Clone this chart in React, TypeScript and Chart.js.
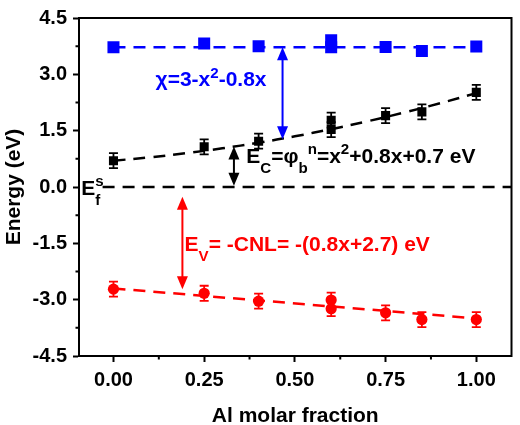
import React, { useEffect, useRef } from "react";
import { Chart, registerables } from "chart.js";

Chart.register(...registerables);

const FONT = '"Liberation Sans", Arial, Helvetica, sans-serif';

// ---- data ----
const alFraction = [0, 0.25, 0.4, 0.6, 0.6, 0.75, 0.85, 1.0];
const chiValues = [3.72, 3.82, 3.75, 3.91, 3.72, 3.73, 3.62, 3.74];
const ecValues = [0.7, 1.07, 1.22, 1.78, 1.53, 1.9, 2.0, 2.52];
const ecErrors = [0.2, 0.2, 0.2, 0.2, 0.2, 0.2, 0.2, 0.2];
const evValues = [-2.72, -2.83, -3.04, -3.01, -3.24, -3.35, -3.53, -3.53];
const evErrors = [0.2, 0.2, 0.2, 0.2, 0.2, 0.2, 0.2, 0.2];

const chiFitX = [0, 1.0];
const chiFitY = [3.72, 3.72];
const ecFitX = [0, 0.1, 0.2, 0.3, 0.4, 0.5, 0.6, 0.7, 0.8, 0.9, 1.0];
const ecFitY = [0.7, 0.79, 0.9, 1.03, 1.18, 1.35, 1.54, 1.75, 1.98, 2.23, 2.5];
const evFitX = [0, 1.0];
const evFitY = [-2.7, -3.5];
const fermiX = [-0.03, 1.097];
const fermiY = [0, 0];

const xTicks = [0, 0.25, 0.5, 0.75, 1.0];
const xMinorTicks = [0.125, 0.375, 0.625, 0.875];
const yTicks = [-4.5, -3.0, -1.5, 0, 1.5, 3.0, 4.5];
const yMinorTicks = [-3.75, -2.25, -0.75, 0.75, 2.25, 3.75];

// arrows: x position, start value, end value (energy, eV)
const arrowX = [0.466, 0.332, 0.19];
const arrowFrom = [3.72, 1.08, -0.26];
const arrowTo = [1.27, 0.03, -2.72];

const BLUE = "#0000ff";
const RED = "#ff0000";
const BLACK = "#000000";
const arrowColors = [BLUE, BLACK, RED];

const pts = (xs: number[], ys: number[]) => xs.map((x, i) => ({ x, y: ys[i] }));

type Part = { t: string; k?: "sub" | "sup"; stack?: boolean };

function drawRich(ctx: CanvasRenderingContext2D, x: number, y: number, parts: Part[], color: string, size: number) {
  let cx = x;
  ctx.fillStyle = color;
  ctx.textAlign = "left";
  ctx.textBaseline = "alphabetic";
  for (const p of parts) {
    const s = p.k ? size * 0.72 : size;
    ctx.font = `bold ${s}px ${FONT}`;
    const dy = p.k === "sub" ? size * 0.47 : p.k === "sup" ? -size * 0.42 : 0;
    ctx.fillText(p.t, cx, y + dy);
    if (!p.stack) cx += ctx.measureText(p.t).width;
  }
}

const overlayPlugin = {
  id: "overlay",
  afterDatasetsDraw(chart: any) {
    const ctx: CanvasRenderingContext2D = chart.ctx;
    const xs = chart.scales.x;
    const ys = chart.scales.y;
    const ca = chart.chartArea;
    ctx.save();

    // error bars
    const drawErr = (vals: number[], errs: number[], color: string) => {
      ctx.strokeStyle = color;
      ctx.lineWidth = 1.8;
      vals.forEach((v, i) => {
        const px = xs.getPixelForValue(alFraction[i]);
        const top = ys.getPixelForValue(v + errs[i]);
        const bot = ys.getPixelForValue(v - errs[i]);
        ctx.beginPath();
        ctx.moveTo(px, top);
        ctx.lineTo(px, bot);
        ctx.moveTo(px - 4.5, top);
        ctx.lineTo(px + 4.5, top);
        ctx.moveTo(px - 4.5, bot);
        ctx.lineTo(px + 4.5, bot);
        ctx.stroke();
      });
    };
    drawErr(ecValues, ecErrors, BLACK);
    drawErr(evValues, evErrors, RED);

    // arrows
    arrowX.forEach((ax, i) => {
      const px = xs.getPixelForValue(ax);
      const y1 = ys.getPixelForValue(arrowFrom[i]);
      const y2 = ys.getPixelForValue(arrowTo[i]);
      const c = arrowColors[i];
      const head = 13;
      const hw = 5.5;
      ctx.strokeStyle = c;
      ctx.fillStyle = c;
      ctx.lineWidth = 2;
      ctx.beginPath();
      ctx.moveTo(px, y1 + head - 1);
      ctx.lineTo(px, y2 - head + 1);
      ctx.stroke();
      ctx.beginPath();
      ctx.moveTo(px, y1);
      ctx.lineTo(px - hw, y1 + head);
      ctx.lineTo(px + hw, y1 + head);
      ctx.closePath();
      ctx.fill();
      ctx.beginPath();
      ctx.moveTo(px, y2);
      ctx.lineTo(px - hw, y2 - head);
      ctx.lineTo(px + hw, y2 - head);
      ctx.closePath();
      ctx.fill();
    });

    // text labels
    const size = 21;
    drawRich(ctx, xs.getPixelForValue(0.116), ys.getPixelForValue(2.68),
      [{ t: "\u03c7=3-x" }, { t: "2", k: "sup" }, { t: "-0.8x" }], BLUE, size);
    drawRich(ctx, xs.getPixelForValue(0.366), ys.getPixelForValue(0.64),
      [{ t: "E" }, { t: "C", k: "sub" }, { t: "=\u03c6" }, { t: "b", k: "sub" }, { t: "n", k: "sup" },
       { t: "=x" }, { t: "2", k: "sup" }, { t: "+0.8x+0.7 eV" }], BLACK, size);
    drawRich(ctx, xs.getPixelForValue(0.196), ys.getPixelForValue(-1.7),
      [{ t: "E" }, { t: "V", k: "sub" }, { t: "= -CNL= -(0.8x+2.7) eV" }], RED, size);
    drawRich(ctx, xs.getPixelForValue(-0.089), ys.getPixelForValue(-0.21),
      [{ t: "E" }, { t: "f", k: "sub", stack: true }, { t: "s", k: "sup" }], BLACK, size);

    // frame (top & right)
    ctx.strokeStyle = BLACK;
    ctx.lineWidth = 2;
    ctx.strokeRect(ca.left, ca.top, ca.right - ca.left, ca.bottom - ca.top);

    // minor ticks
    ctx.lineWidth = 2;
    ctx.beginPath();
    xMinorTicks.forEach((v) => {
      const px = xs.getPixelForValue(v);
      ctx.moveTo(px, ca.bottom);
      ctx.lineTo(px, ca.bottom + 3.5);
    });
    yMinorTicks.forEach((v) => {
      const py = ys.getPixelForValue(v);
      ctx.moveTo(ca.left, py);
      ctx.lineTo(ca.left - 3.5, py);
    });
    ctx.stroke();
    ctx.restore();
  },
};

export default function App() {
  const ref = useRef<HTMLCanvasElement | null>(null);

  useEffect(() => {
    if (!ref.current) return;
    const dash = [12, 8];
    const chart = new Chart(ref.current, {
      type: "scatter",
      data: {
        datasets: [
          { data: pts(alFraction, chiValues), pointStyle: "rect", pointRadius: 8.5, backgroundColor: BLUE, borderColor: BLUE, borderWidth: 0, showLine: false },
          { data: pts(alFraction, ecValues), pointStyle: "rect", pointRadius: 6.4, backgroundColor: BLACK, borderColor: BLACK, borderWidth: 0, showLine: false },
          { data: pts(alFraction, evValues), pointStyle: "circle", pointRadius: 5.6, backgroundColor: RED, borderColor: RED, borderWidth: 0, showLine: false },
          { data: pts(chiFitX, chiFitY), showLine: true, pointRadius: 0, borderColor: BLUE, borderWidth: 2.5, borderDash: dash },
          { data: pts(ecFitX, ecFitY), showLine: true, pointRadius: 0, borderColor: BLACK, borderWidth: 2.5, borderDash: dash, tension: 0.4 },
          { data: pts(evFitX, evFitY), showLine: true, pointRadius: 0, borderColor: RED, borderWidth: 2.5, borderDash: dash },
          { data: pts(fermiX, fermiY), showLine: true, pointRadius: 0, borderColor: BLACK, borderWidth: 2.5, borderDash: dash },
        ],
      },
      options: {
        animation: false,
        responsive: false,
        devicePixelRatio: 1,
        layout: { padding: { left: 0, right: 3.5, top: 10, bottom: 0 } },
        plugins: { legend: { display: false }, tooltip: { enabled: false } },
        scales: {
          x: {
            type: "linear",
            min: -0.095,
            max: 1.097,
            afterFit: (s: any) => { s.height = 69; },
            afterBuildTicks: (s: any) => { s.ticks = xTicks.map((v) => ({ value: v })); },
            ticks: {
              color: BLACK,
              font: { family: FONT, size: 20, weight: "bold" },
              padding: 6,
              maxRotation: 0,
              callback: (v: any) => Number(v).toFixed(2),
            },
            grid: { drawOnChartArea: false, drawTicks: true, tickLength: 6, tickWidth: 2, tickColor: BLACK },
            border: { display: true, color: BLACK, width: 2 },
            title: {
              display: true,
              text: "Al molar fraction",
              color: BLACK,
              font: { family: FONT, size: 21, weight: "bold", lineHeight: 0.8 },
              padding: 0,
            },
          },
          y: {
            type: "linear",
            min: -4.5,
            max: 4.5,
            afterFit: (s: any) => { s.width = 79; },
            afterBuildTicks: (s: any) => { s.ticks = yTicks.map((v) => ({ value: v })); },
            ticks: {
              color: BLACK,
              font: { family: FONT, size: 20, weight: "bold" },
              padding: 6,
              callback: (v: any) => Number(v).toFixed(1),
            },
            grid: { drawOnChartArea: false, drawTicks: true, tickLength: 6, tickWidth: 2, tickColor: BLACK },
            border: { display: true, color: BLACK, width: 2 },
            title: {
              display: true,
              text: "Energy (eV)",
              color: BLACK,
              font: { family: FONT, size: 21, weight: "bold", lineHeight: 1.2 },
              padding: { top: 1.4, bottom: 0 },
            },
          },
        },
      },
      plugins: [overlayPlugin],
    } as any);
    return () => chart.destroy();
  }, []);

  return (
    <div style={{ position: "absolute", left: 0, top: 0, width: 520, height: 425, background: "#fff" }}>
      <canvas ref={ref} width={520} height={425} style={{ width: 520, height: 425, display: "block" }} />
    </div>
  );
}
